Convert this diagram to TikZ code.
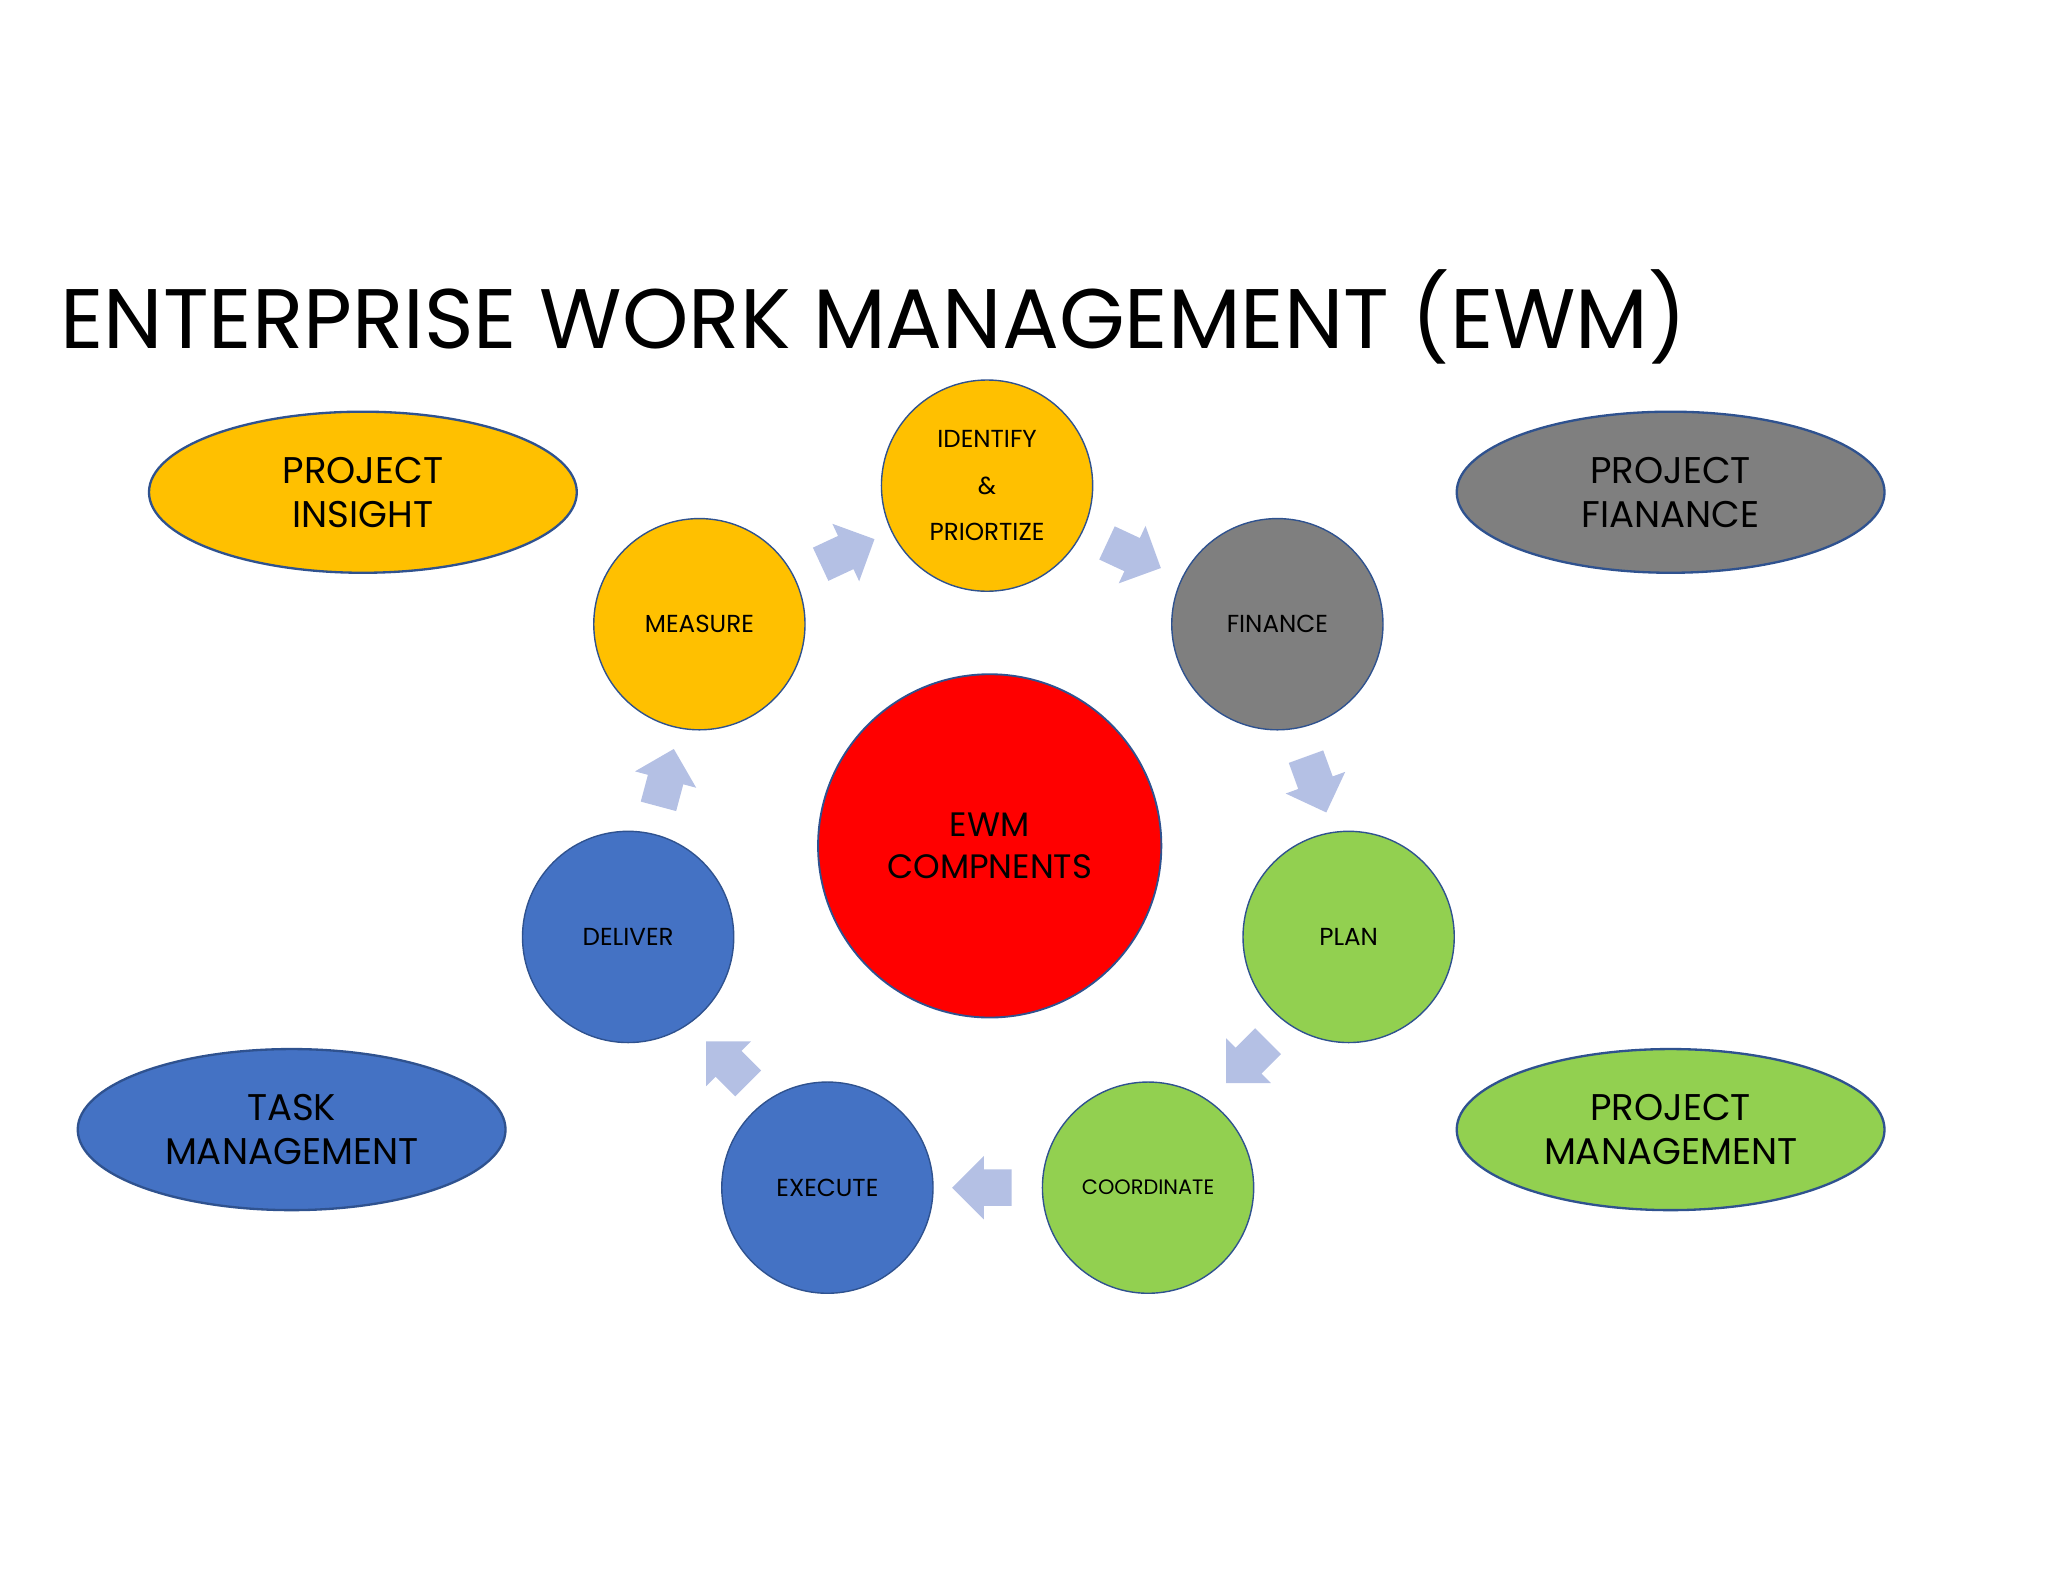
\documentclass[tikz,border=0pt]{standalone}
\usepackage{fontspec}
\setmainfont{Poppins}
\usepackage{tikz}
\usetikzlibrary{shapes,shapes.arrows}
\definecolor{ewmyellow}{HTML}{FFC000}
\definecolor{ewmgray}{HTML}{7F7F7F}
\definecolor{ewmgreen}{HTML}{92D050}
\definecolor{ewmblue}{HTML}{4472C4}
\definecolor{ewmedge}{HTML}{2F528F}
\definecolor{ewmarrow}{HTML}{B4C0E4}
\tikzstyle{stage} = [circle, draw=ewmedge, line width=0.3pt, minimum size=1.6cm, inner sep=0pt, align=center, font=\fontsize{5.3}{8}\selectfont]
\tikzstyle{area} = [ellipse, draw=ewmedge, line width=0.5pt, minimum width=3.24cm, minimum height=1.22cm, inner sep=0pt, align=center, font=\fontsize{8}{9.5}\selectfont]
\tikzstyle{flow} = [single arrow, fill=ewmarrow, draw=none, minimum height=0.45cm, minimum width=0.48cm, single arrow head extend=0.1cm, inner sep=0.13cm]

\begin{document}
\begin{tikzpicture}[x=0.01cm, y=-0.01cm]
		            \useasboundingbox (0,0) rectangle (1552,1199);
		                \draw (45,240) node [right, inner sep=0pt, font=\fontsize{18.2}{20}\selectfont] (title) {ENTERPRISE WORK MANAGEMENT (EWM)};
		                \draw (750,641) node [circle, draw=ewmedge, fill=red, minimum size=2.6cm, align=center, font=\fontsize{7.3}{9}\selectfont] (core) {EWM\\COMPNENTS};
		                \draw (748,368) node [stage, fill=ewmyellow] (identify) {IDENTIFY\\[2pt]\&\\[2pt]PRIORTIZE};
		                \draw (530,473) node [stage, fill=ewmyellow] (measure) {MEASURE};
		                \draw (968,473) node [stage, fill=ewmgray] (finance) {FINANCE};
		                \draw (476,710) node [stage, fill=ewmblue] (deliver) {DELIVER};
		                \draw (1022,710) node [stage, fill=ewmgreen] (plan) {PLAN};
		                \draw (627,900) node [stage, fill=ewmblue] (execute) {EXECUTE};
		                \draw (870,900) node [stage, fill=ewmgreen, font=\fontsize{4.5}{6}\selectfont] (coordinate) {COORDINATE};
		                \draw (275,373) node [area, fill=ewmyellow] (insight) {PROJECT\\INSIGHT};
		                \draw (1266,373) node [area, fill=ewmgray] (fianance) {PROJECT\\FIANANCE};
		                \draw (221,856) node [area, fill=ewmblue] (task) {TASK\\MANAGEMENT};
		                \draw (1266,856) node [area, fill=ewmgreen] (management) {PROJECT\\MANAGEMENT};
		                \draw (636,421) node [flow, rotate=25] (a1) {};
		                \draw (853,418) node [flow, rotate=-25] (a2) {};
		                \draw (995,588) node [flow, rotate=-70] (a3) {};
		                \draw (950,800) node [flow, rotate=-135] (a4) {};
		                \draw (751,900) node [flow, rotate=180] (a5) {};
		                \draw (556,810) node [flow, rotate=135] (a6) {};
		                \draw (503,596) node [flow, rotate=75] (a7) {};
		            \end{tikzpicture}
\end{document}
